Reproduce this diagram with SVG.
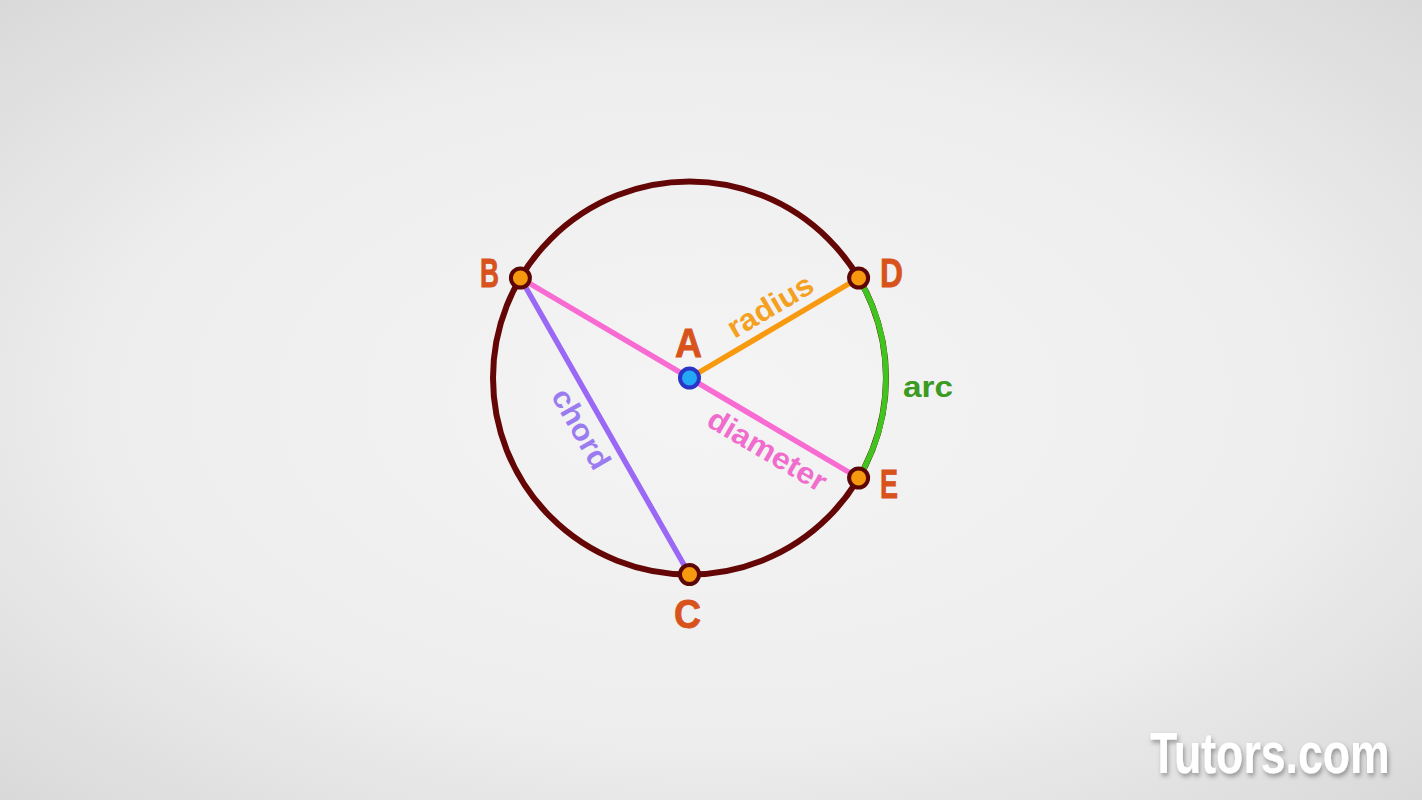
<svg xmlns="http://www.w3.org/2000/svg" width="1422" height="800" viewBox="0 0 1422 800">
  <defs>
    <radialGradient id="bg" cx="50%" cy="50%" r="75%">
      <stop offset="0" stop-color="#f4f4f4"/>
      <stop offset="0.55" stop-color="#eeeeee"/>
      <stop offset="1" stop-color="#d6d6d6"/>
    </radialGradient>
    <filter id="shadow" x="-10%" y="-30%" width="120%" height="160%">
      <feDropShadow dx="2" dy="3" stdDeviation="2.5" flood-color="#000000" flood-opacity="0.35"/>
    </filter>
  </defs>
  <style>
    .lbl { font-family: "Liberation Sans", Arial, sans-serif; font-weight: bold; font-size: 40px; fill: #d8521c; stroke: #d8521c; stroke-width: 0.8px; }
    .word { font-family: "Liberation Sans", Arial, sans-serif; font-weight: bold; font-size: 30px; }
    .pt { fill: #f7990f; stroke: #5c0606; stroke-width: 4; }
    .seg { stroke-width: 5.5; stroke-linecap: round; fill: none; }
  </style>
  <rect x="0" y="0" width="1422" height="800" fill="url(#bg)"/>

  <g id="connectors">
    <circle id="circle" cx="689.5" cy="378" r="196.5" fill="none" stroke="#640606" stroke-width="6"/>
    <path id="arc" class="seg" d="M 858.6 278 A 196.5 196.5 0 0 1 858.6 478" stroke="#3fc61e" stroke-width="6"/>
    <line id="chord" class="seg" x1="520.4" y1="278" x2="689.5" y2="574.5" stroke="#9a68f4"/>
    <line id="diameter" class="seg" x1="520.4" y1="278" x2="858.6" y2="478" stroke="#f76bd2"/>
    <line id="radius" class="seg" x1="689.5" y1="378" x2="858.6" y2="278" stroke="#f89a10"/>
  </g>

  <g id="labels">
    <text class="word" fill="#f5a020" text-anchor="middle" textLength="95" lengthAdjust="spacingAndGlyphs" transform="translate(782 326) rotate(-30.6)" y="-13">radius</text>
    <text class="word" fill="#f06ccd" text-anchor="middle" textLength="133" lengthAdjust="spacingAndGlyphs" transform="translate(779 430.5) rotate(30.6)" y="33">diameter</text>
    <text class="word" fill="#9b7cf0" text-anchor="middle" textLength="88" lengthAdjust="spacingAndGlyphs" transform="translate(600 418) rotate(60.3)" y="32">chord</text>
    <text class="word" fill="#3a9a22" font-size="35" x="903" y="397" textLength="50" lengthAdjust="spacingAndGlyphs">arc</text>
  </g>

  <g id="node-B">
    <circle class="pt" cx="520.4" cy="278" r="9.5"/>
    <text class="lbl" x="480" y="287" textLength="19" lengthAdjust="spacingAndGlyphs">B</text>
  </g>
  <g id="node-D">
    <circle class="pt" cx="858.6" cy="278" r="9.5"/>
    <text class="lbl" x="880" y="287" textLength="23" lengthAdjust="spacingAndGlyphs">D</text>
  </g>
  <g id="node-E">
    <circle class="pt" cx="858.6" cy="478" r="9.5"/>
    <text class="lbl" x="880" y="498" textLength="18" lengthAdjust="spacingAndGlyphs">E</text>
  </g>
  <g id="node-C">
    <circle class="pt" cx="689.5" cy="574.5" r="9.5"/>
    <text class="lbl" x="674" y="628" textLength="27" lengthAdjust="spacingAndGlyphs">C</text>
  </g>
  <g id="node-A">
    <circle cx="689.5" cy="378" r="9.5" fill="#22a8f5" stroke="#2a35c8" stroke-width="4"/>
    <text class="lbl" x="675" y="357" textLength="27" lengthAdjust="spacingAndGlyphs">A</text>
  </g>

  <g id="logo">
    <text x="0" y="0" transform="translate(1150 773) scale(0.77 1)" font-family="'Liberation Sans', Arial, sans-serif" font-weight="bold" font-size="58" fill="#ffffff" filter="url(#shadow)">Tutors.com</text>
  </g>
</svg>
